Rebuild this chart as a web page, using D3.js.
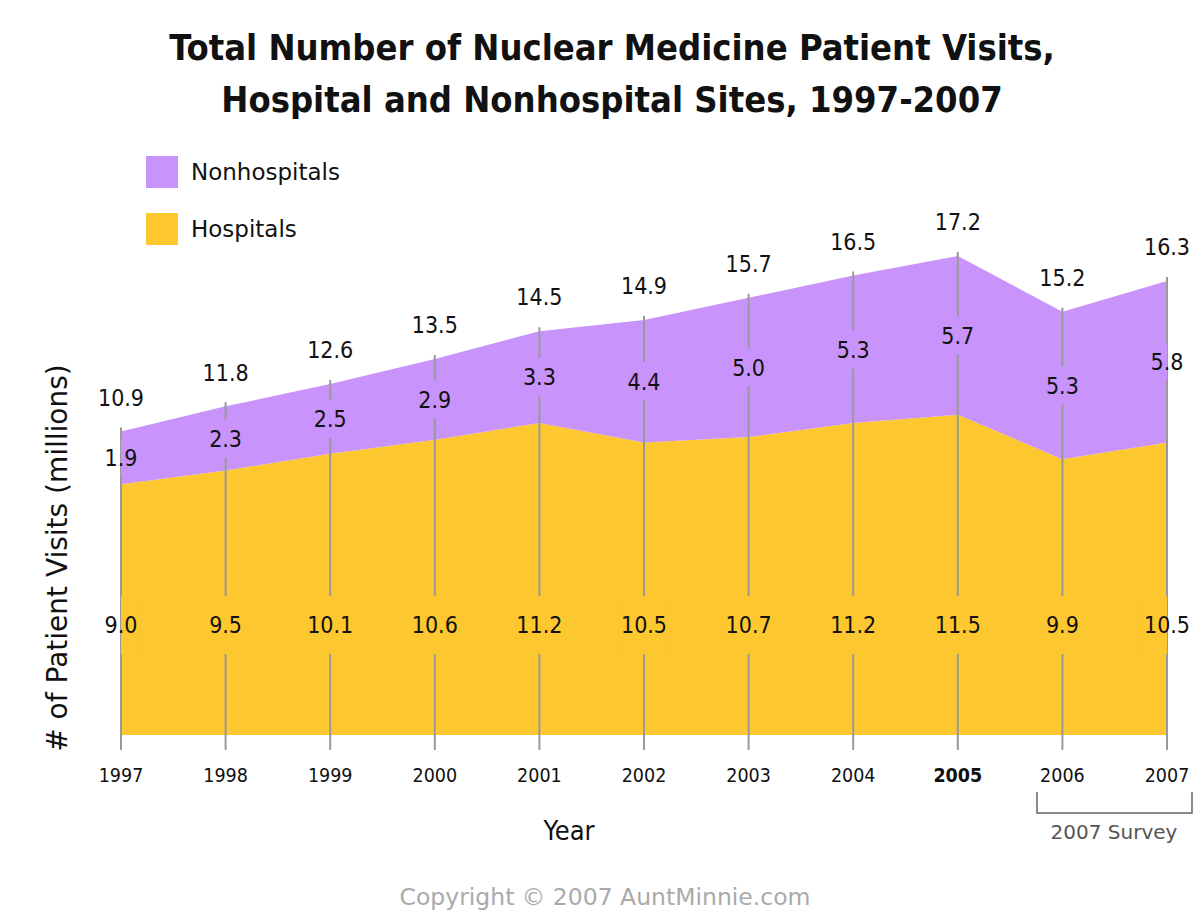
<!DOCTYPE html>
<html><head><meta charset="utf-8">
<script src="https://cdn.jsdelivr.net/npm/d3@7"></script>
<style>
body{margin:0;background:#fff;}
text{font-family:"DejaVu Sans Condensed","DejaVu Sans",sans-serif;font-stretch:condensed;}
text.wide{font-family:"DejaVu Sans",sans-serif;font-stretch:normal;}
</style></head>
<body><svg id="c" width="1200" height="922"></svg>
<script>
const years = [1997,1998,1999,2000,2001,2002,2003,2004,2005,2006,2007];
const hospitals = [9.0,9.5,10.1,10.6,11.2,10.5,10.7,11.2,11.5,9.9,10.5];
const nonhospitals = [1.9,2.3,2.5,2.9,3.3,4.4,5.0,5.3,5.7,5.3,5.8];
const totals = [10.9,11.8,12.6,13.5,14.5,14.9,15.7,16.5,17.2,15.2,16.3];
const seriesNames = ["Hospitals","Nonhospitals"];
const titleLines = ["Total Number of Nuclear Medicine Patient Visits,","Hospital and Nonhospital Sites, 1997-2007"];

const colors = {Hospitals:"#fdc72f", Nonhospitals:"#c893fa"};
const svg = d3.select("#c");

const x = d3.scalePoint().domain(years).range([121,1167]);
const y = d3.scaleLinear().domain([0,18]).range([735,735-18*27.85]);

const rows = years.map((yr,i)=>({year:yr, Hospitals:hospitals[i], Nonhospitals:nonhospitals[i]}));
const stack = d3.stack().keys(seriesNames)(rows);

const area = d3.area().x(d=>x(d.data.year)).y0(d=>y(d[0])).y1(d=>y(d[1]));
svg.append("g").selectAll("path").data(stack).join("path")
  .attr("d",area).attr("fill",d=>colors[d.key]);

// vertical grid lines
svg.append("g").selectAll("line").data(years).join("line")
  .attr("x1",d=>x(d)).attr("x2",d=>x(d))
  .attr("y1",(d,i)=>y(totals[i])-4).attr("y2",750)
  .attr("stroke","#999").attr("stroke-width",2);

// title
svg.append("g").selectAll("text").data(titleLines).join("text")
  .attr("x",612).attr("y",(d,i)=>60+i*52).attr("text-anchor","middle")
  .attr("font-size",36).attr("font-weight","bold").attr("fill","#111").text(d=>d);

// legend
const leg = svg.append("g");
["Nonhospitals","Hospitals"].forEach((k,i)=>{
  leg.append("rect").attr("x",146).attr("y",156+i*57).attr("width",32).attr("height",32).attr("fill",colors[k]);
  leg.append("text").attr("class","wide").attr("x",191).attr("y",180+i*57).attr("font-size",23).attr("fill","#111").text(k);
});

const x0 = x(years[0]), x1 = x(years[years.length-1]);
function label(xv, yv, txt, bg, bh){
  const g = svg.append("g");
  const t = g.append("text").attr("x",xv).attr("y",yv).attr("dy","0.36em")
    .attr("text-anchor","middle").attr("font-size",23).attr("fill","#111").text(txt);
  if(bg){
    const bb = t.node().getBBox();
    const a = Math.max(bb.x-2, x0), b = Math.min(bb.x+bb.width+2, x1);
    g.insert("rect","text").attr("x",a).attr("y",yv-bh/2).attr("width",b-a).attr("height",bh).attr("fill",bg);
  }
}
years.forEach((yr,i)=>{
  label(x(yr), y(totals[i])-34, totals[i].toFixed(1), null, 0);
  label(x(yr), (y(totals[i])+y(hospitals[i]))/2, nonhospitals[i].toFixed(1), colors.Nonhospitals, 38);
  label(x(yr), 625, hospitals[i].toFixed(1), colors.Hospitals, 58);
});

// x labels
svg.append("g").selectAll("text").data(years).join("text")
  .attr("x",d=>x(d)).attr("y",782).attr("text-anchor","middle")
  .attr("font-size",19.5).attr("fill","#111").attr("font-weight",d=>d===2005?"bold":"normal").text(d=>d);

svg.append("text").attr("x",569).attr("y",840).attr("text-anchor","middle").attr("font-size",27).attr("fill","#111").text("Year");

// bracket
svg.append("path").attr("d","M1037,792V813H1192V792").attr("fill","none").attr("stroke","#666").attr("stroke-width",1.5);
svg.append("text").attr("class","wide").attr("x",1114).attr("y",839).attr("text-anchor","middle").attr("font-size",20).attr("fill","#555").text("2007 Survey");

svg.append("text").attr("class","wide").attr("transform","translate(67,558) rotate(-90)").attr("text-anchor","middle")
  .attr("font-size",28).attr("fill","#111").text("# of Patient Visits (millions)");

svg.append("text").attr("class","wide").attr("x",605).attr("y",905).attr("text-anchor","middle").attr("font-size",23.5).attr("fill","#aaa").text("Copyright © 2007 AuntMinnie.com");
</script></body></html>
